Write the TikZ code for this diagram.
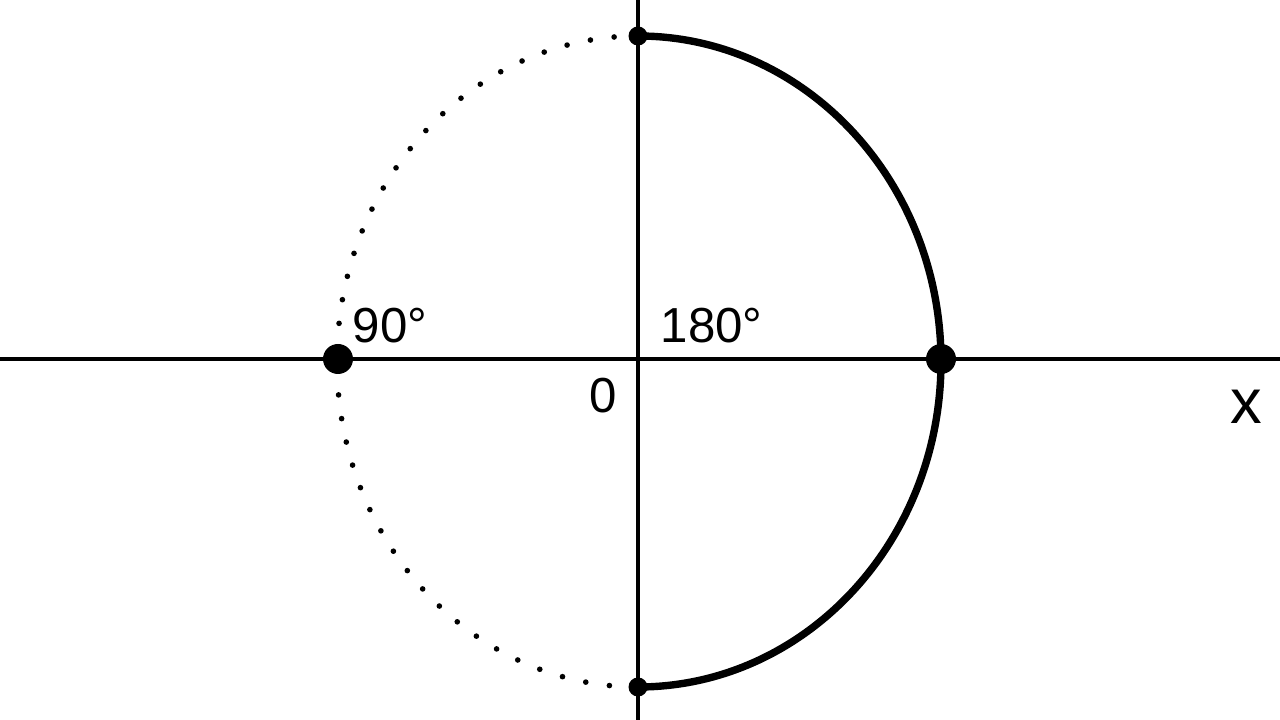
\documentclass[tikz,border=0pt]{standalone}
\usepackage{fontspec}
\setmainfont{Liberation Sans}
\tikzset{
  axis/.style={line width=1.4pt},
  halfcirc/.style={line width=2.1pt},
  dotcirc/.style={line width=1.6pt,line cap=round,dash pattern=on 0pt off 6.8pt},
  bigdot/.style={circle,fill=black,inner sep=0pt,minimum size=0.3cm},
  smalldot/.style={circle,fill=black,inner sep=0pt,minimum size=0.19cm},
  lbl/.style={font=\fontsize{14}{16}\selectfont,inner sep=0pt}
}
\begin{document}
\begin{tikzpicture}
   \useasboundingbox (-6.38,-3.61) rectangle (6.42,3.59);
   % axes
   \coordinate (W) at (-6.38,0);
   \coordinate (E) at (6.42,0);
   \coordinate (N) at (0,3.59);
   \coordinate (S) at (0,-3.61);
   \draw[axis] (W) -- (E);
   \draw[axis] (N) -- (S);
   % circle
   \draw[dotcirc] (0,3.23) arc[start angle=90,end angle=270,x radius=3.01,y radius=3.255];
   \draw[halfcirc] (0,3.23) arc[start angle=90,end angle=-90,x radius=3.03,y radius=3.255];
   \node[bigdot] (left) at (-3.0,0) {};
   \node[bigdot] (right) at (3.03,0) {};
   \node[smalldot] (top) at (0,3.23) {};
   \node[smalldot] (bottom) at (0,-3.28) {};
   % labels
   \node[lbl,anchor=base west] (a90) at (-2.86,0.16) {90°};
   \node[lbl,anchor=base west] (a180) at (0.22,0.16) {180°};
   \node[lbl,anchor=base] (orig) at (-0.35,-0.54) {0};
   \node[lbl,anchor=base,font=\fontsize{18}{20}\selectfont] (xl) at (6.08,-0.65) {x};
\end{tikzpicture}
\end{document}
